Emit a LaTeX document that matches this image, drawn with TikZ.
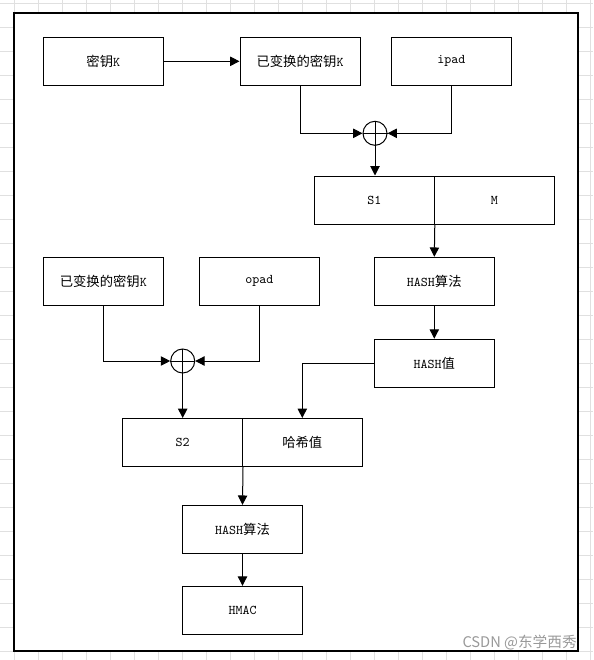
\documentclass[tikz,border=0pt]{standalone}
\usepackage{fontspec}
\newfontfamily\cjk{Noto Sans CJK SC}
\newcommand{\zh}[1]{{\cjk #1}}
\usepackage{tikz}
\usetikzlibrary{shapes,arrows,positioning,calc,arrows.meta}

\tikzset{
    box/.style={draw, line width=0.75pt, minimum width=90pt, minimum height=36pt, inner sep=0pt,
        font=\fontsize{10}{12}\selectfont\ttfamily},
    arr/.style={line width=0.75pt, -{Triangle[length=7pt,width=7pt]}},
    link/.style={line width=0.75pt},
    xorc/.style={draw, circle, line width=0.75pt, minimum size=18pt, inner sep=0pt},
    gridline/.style={draw=black!12, line width=0.6pt}
}

\begin{document}
\begin{tikzpicture}[x=0.75pt, y=-0.75pt]
    \useasboundingbox (0,0) rectangle (593,660);

    % Background grid
    \foreach \gx in {14,38,...,590} \draw[gridline] (\gx,0) -- (\gx,660);
    \foreach \gy in {3,27,...,651} \draw[gridline] (0,\gy) -- (593,\gy);

    % Frame
    \draw[fill=white, line width=0.85pt] (14,13) rectangle (578,651);

    % Inner hash
    \node [box] (key) at (103.3, 61.3) {\zh{密钥}K};
    \node [box] (tkey1) at (300, 61.3) {\zh{已变换的密钥}K};
    \node [box] (ipad) at (451.3, 61.3) {ipad};
    \node [xorc] (xor1) at (375, 133.3) {};
    \node [box] (s1) at (374.3, 200) {S1};
    \node [box] (msg) at (494.3, 200) {M};
    \node [box] (hash1) at (434.3, 281.3) {HASH\zh{算法}};
    \node [box] (hval) at (434.3, 363.2) {HASH\zh{值}};

    % Outer hash
    \node [box] (tkey2) at (103.3, 281.3) {\zh{已变换的密钥}K};
    \node [box] (opad) at (259.3, 281.3) {opad};
    \node [xorc] (xor2) at (182.7, 361) {};
    \node [box] (s2) at (182.5, 442.5) {S2};
    \node [box] (hx) at (302.3, 442.5) {\zh{哈希值}};
    \node [box] (hash2) at (242.5, 529.3) {HASH\zh{算法}};
    \node [box] (hmac) at (242.5, 610.3) {HMAC};

    % Plus signs
    \draw[link] (xor1.north) -- (xor1.south) (xor1.west) -- (xor1.east);
    \draw[link] (xor2.north) -- (xor2.south) (xor2.west) -- (xor2.east);

    % Connectors
    \draw[arr] (key) -- (tkey1);
    \draw[arr] (tkey1.south) |- (xor1.west);
    \draw[arr] (ipad.south) |- (xor1.east);
    \draw[arr] (xor1.south) -- (xor1.south |- s1.north);
    \draw[arr] (s1.south east) -- (hash1.north);
    \draw[arr] (hash1) -- (hval);
    \draw[arr] (hval.west) -| (hx.north);
    \draw[arr] (tkey2.south) |- (xor2.west);
    \draw[arr] (opad.south) |- (xor2.east);
    \draw[arr] (xor2.south) -- (xor2.south |- s2.north);
    \draw[arr] (s2.south east) -- (hash2.north);
    \draw[arr] (hash2) -- (hmac);

    % Watermark
    \node [anchor=base east, text=black!40, inner sep=0pt, font=\fontsize{11}{12}\selectfont\cjk] (mark) at (577, 647) {CSDN @东学西秀};

\end{tikzpicture}
\end{document}
